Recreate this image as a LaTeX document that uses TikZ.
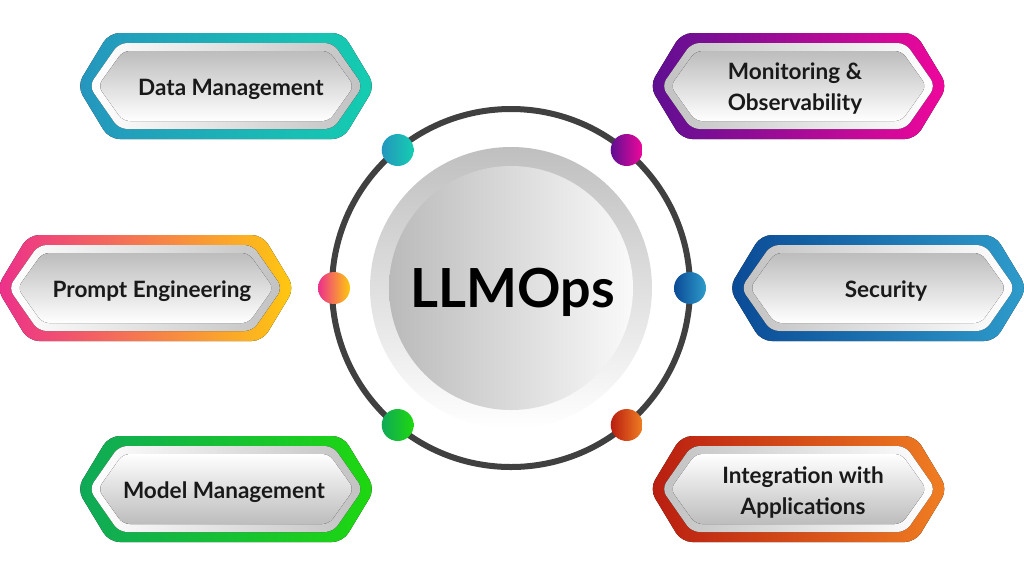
\documentclass[tikz,border=0pt]{standalone}
\usepackage{fontspec}
\setmainfont{Lato}
\usepackage{tikz}
\tikzset{
  label/.style={font=\bfseries\fontsize{16.9}{23}\selectfont, text=black!90, align=center, inner sep=0pt},
  dot/.style={circle, minimum size=24pt, inner sep=0pt},
  frameltr/.style={left color=white, right color=black!24},
  framertl/.style={left color=black!24, right color=white},
  platedown/.style={top color=black!26, bottom color=white},
  plateup/.style={top color=white, bottom color=black!26}
}
% #1 centre, #2 tint from, #3 tint to, #4 frame style, #5 plate style
\newcommand{\hexbox}[5]{
  \begin{scope}[shift={#1}]
    \fill[rounded corners=8pt, left color=#2, right color=#3]
      (-149,0) -- (-117,-53) -- (117,-53) -- (149,0) -- (117,53) -- (-117,53) -- cycle;
    \fill[rounded corners=6pt, #4]
      (-137,0) -- (-107,-43) -- (107,-43) -- (137,0) -- (107,43) -- (-107,43) -- cycle;
    \fill[rounded corners=5pt, #5]
      (-128,0) -- (-103,-35) -- (103,-35) -- (128,0) -- (103,35) -- (-103,35) -- cycle;
  \end{scope}
}
\definecolor{dataA}{HTML}{2596BE}\definecolor{dataB}{HTML}{14CDB0}
\definecolor{moniA}{HTML}{5E0F92}\definecolor{moniB}{HTML}{F0079B}
\definecolor{promA}{HTML}{EC2F8C}\definecolor{promB}{HTML}{FFC90E}
\definecolor{secuA}{HTML}{0A4A96}\definecolor{secuB}{HTML}{2E9CCB}
\definecolor{modeA}{HTML}{0FA958}\definecolor{modeB}{HTML}{1ED80F}
\definecolor{inteA}{HTML}{B91D10}\definecolor{inteB}{HTML}{F07E22}
\begin{document}
\begin{tikzpicture}[x=0.75pt,y=-0.75pt]
  \useasboundingbox (0,0) rectangle (1024,576);

  \hexbox{(226,86)}{dataA}{dataB}{frameltr}{platedown}
  \hexbox{(798.5,86)}{moniA}{moniB}{framertl}{platedown}
  \hexbox{(145.5,288)}{promA}{promB}{frameltr}{platedown}
  \hexbox{(878,288)}{secuA}{secuB}{framertl}{platedown}
  \hexbox{(226,489)}{modeA}{modeB}{frameltr}{plateup}
  \hexbox{(798.5,489)}{inteA}{inteB}{framertl}{plateup}

  \node[label](data) at (231,89){Data Management};
  \node[label](moni) at (795,88.5){Monitoring \&\\Observability};
  \node[label](prom) at (152,291){Prompt Engineering};
  \node[label](secu) at (886,291){Security};
  \node[label](mode) at (224,492){Model Management};
  \node[label](inte) at (803,492.5){Integration with\\Applications};

  % centre
  \node[circle, draw=black!75, line width=4.5pt, minimum size=268.5pt, inner sep=0pt](ring) at (511,288){};
  \node[circle, top color=black!25, bottom color=white, minimum size=211.5pt, inner sep=0pt](outer) at (511,288){};
  \node[circle, left color=black!27, right color=black!2, minimum size=183pt, inner sep=0pt](inner) at (511,288){};
  \node[inner sep=0pt, font=\bfseries\fontsize{40.4}{40}\selectfont](title) at (512.5,292){LLMOps};

  \node[dot, left color=dataA, right color=dataB](d1) at (397.7,150){};
  \node[dot, left color=moniA, right color=moniB](d2) at (626.7,150){};
  \node[dot, left color=promA, right color=promB](d3) at (334,288){};
  \node[dot, left color=secuA, right color=secuB](d4) at (690,288){};
  \node[dot, left color=modeA, right color=modeB](d5) at (397.7,425){};
  \node[dot, left color=inteA, right color=inteB](d6) at (626.7,425){};
\end{tikzpicture}
\end{document}
